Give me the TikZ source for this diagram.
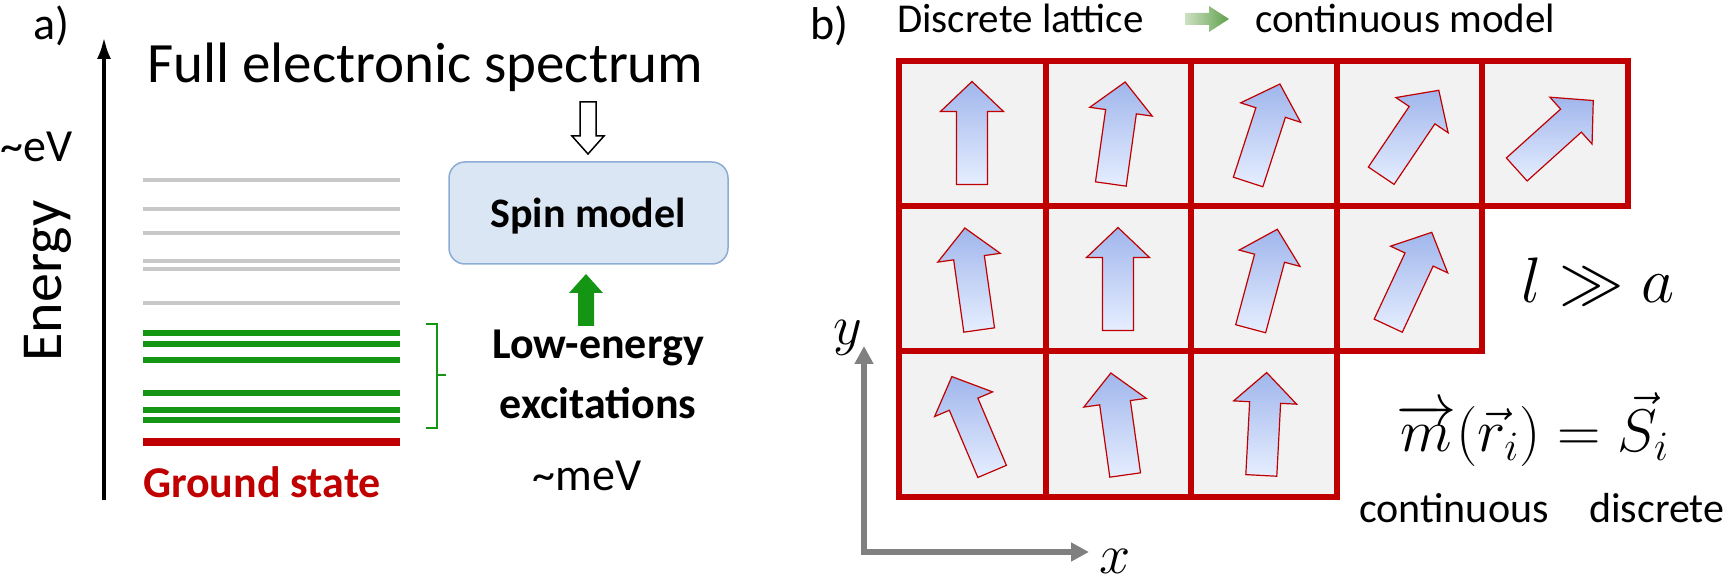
\documentclass[tikz,border=0pt]{standalone}
\usetikzlibrary{arrows.meta}
\usepackage{graphicx}
\usepackage{amsmath}
\usepackage{fontspec}
\setmainfont{Carlito}
\definecolor{dred}{RGB}{192,0,0}
\definecolor{lgreen}{RGB}{20,150,20}
\definecolor{lgray}{RGB}{200,200,200}
\definecolor{boxfill}{RGB}{218,230,244}
\definecolor{boxline}{RGB}{140,172,212}
\definecolor{cellfill}{RGB}{242,242,242}
\definecolor{axgray}{RGB}{128,128,128}
\newcommand{\fs}[1]{\fontsize{#1}{1.2\dimexpr#1pt\relax}\selectfont}
\newcommand{\bigmath}[2]{\fontsize{20}{24}\selectfont\scalebox{#1}{$#2$}}
\newcommand{\spinarr}[3]{%
  \begin{scope}[shift={(#1,#2)},rotate=-#3]
    \draw[draw=dred,line width=1.2pt,top color={rgb,255:red,160;green,182;blue,236},bottom color={rgb,255:red,230;green,238;blue,255}]
      (-15.5,51.5) -- (-15.5,-21.5) -- (-31.5,-21.5) -- (0,-51.5) -- (31.5,-21.5) -- (15.5,-21.5) -- (15.5,51.5) -- cycle;
  \end{scope}}
\tikzset{
  lvl/.style={line width=4.5pt},
  txt/.style={inner sep=0pt,anchor=base},
}
\begin{document}
\begin{tikzpicture}[x=1pt,y=-1pt]
\useasboundingbox (0,0) rectangle (1725,577);
% panel a
\node[txt,anchor=base west] (la) at (33,40) {\fs{46}a)};
\coordinate (ebot) at (104,500);
\coordinate (etop) at (104,37);
\draw[line width=4pt,-{Latex[length=22pt,width=14pt]}] (ebot) -- (etop);
\node[rotate=90,inner sep=0pt] (energy) at (48,281) {\fs{58}Energy};
\node[txt,anchor=base west] (ev) at (0,162) {\fs{46}\textasciitilde eV};
\node[txt,anchor=base west] (full) at (147,83) {\fs{57}Full electronic spectrum};
\foreach \y in {180,209,233,261,269,303} \draw[lvl,lgray] (143,\y) -- (400,\y);
\foreach \y in {333,344,360,393,410,420} \draw[line width=6pt,lgreen] (143,\y) -- (400,\y);
\draw[line width=8pt,dred] (143,442) -- (400,442);
\node[txt,anchor=base west,text=dred] (gs) at (143,497) {\fs{44}\bfseries Ground state};
\draw[lgreen,line width=1.8pt] (426,324) -- (437,324) -- (437,428) -- (426,428);
\draw[lgreen,line width=1.8pt] (437,375) -- (446,375);
\draw[line width=1.5pt,fill=white] (580,102) -- (596,102) -- (596,136) -- (604,136) -- (588,154) -- (572,136) -- (580,136) -- cycle;
\node[draw=boxline,fill=boxfill,line width=1.5pt,rounded corners=16pt,minimum width=279pt,minimum height=102pt] (spin) at (588.5,213) {};
\node[txt] (spint) at (588,228) {\fs{42}\bfseries Spin model};
\fill[lgreen] (578,326) -- (578,293) -- (569,293) -- (586,274) -- (603,293) -- (594,293) -- (594,326) -- cycle;
\node[txt] (low) at (598,359) {\fs{44}\bfseries Low-energy};
\node[txt] (exc) at (598,418) {\fs{44}\bfseries excitations};
\node[txt] (mev) at (587,490) {\fs{46}\textasciitilde meV};
% panel b
\node[txt,anchor=base west] (lb) at (810,40) {\fs{46}b)};
\node[txt,anchor=base west] (disc) at (897,33) {\fs{41}Discrete lattice};
\shade[left color={rgb,255:red,205;green,225;blue,195},right color={rgb,255:red,95;green,160;blue,75}]
  (1185,13) -- (1209,13) -- (1209,6) -- (1229,19) -- (1209,32) -- (1209,25) -- (1185,25) -- cycle;
\node[txt,anchor=base west] (cont) at (1255,33) {\fs{41}continuous model};
% grid
\foreach \c/\r in {0/0,1/0,2/0,3/0,4/0,0/1,1/1,2/1,3/1,0/2,1/2,2/2}{
  \fill[cellfill] (899+\c*145.8,61+\r*145.3) rectangle ++(145.8,145.3);}
\begin{scope}[dred,line width=6pt,line cap=rect]
\draw (899,61) -- (1628,61) -- (1628,206) -- (1482,206) -- (1482,351) -- (1337,351) -- (1337,497) -- (899,497) -- cycle;
\draw (899,206) -- (1482,206);
\draw (899,351) -- (1337,351);
\foreach \x in {1046,1191,1337} \draw (\x,61) -- (\x,497);
\draw (1482,61) -- (1482,206);
\end{scope}
\spinarr{972}{133}{0}
\spinarr{1118}{133}{8}
\spinarr{1264}{133}{18}
\spinarr{1410}{133}{34}
\spinarr{1555}{135}{48}
\spinarr{972}{279}{-8}
\spinarr{1118}{279}{0}
\spinarr{1264}{279}{15}
\spinarr{1410}{279}{25}
\spinarr{972}{424}{-23}
\spinarr{1118}{424}{-8}
\spinarr{1264}{424}{3}
\node[txt] (lga) at (1598,303) {\bigmath{3.1}{l \gg a}};
\node[txt] (eq) at (1533,451) {\bigmath{2.9}{\overrightarrow{m}(\vec r_i) = \vec S_i}};
\node[txt] (cn) at (1454,522) {\fs{42}continuous};
\node[txt,anchor=base west] (dc) at (1589,522) {\fs{42}discrete};
% axes
\coordinate (orig) at (864,552);
\coordinate (yend) at (864,346);
\coordinate (xend) at (1089,552);
\draw[axgray,line width=6pt,-{Triangle[length=18pt,width=18pt]}] (864,555) -- (yend);
\draw[axgray,line width=6pt,-{Triangle[length=18pt,width=18pt]}] (861,552) -- (xend);
\node[inner sep=0pt] (ylab) at (848,338) {\bigmath{2.7}{y}};
\node[inner sep=0pt] (xlab) at (1115,561) {\bigmath{2.7}{x}};
\end{tikzpicture}
\end{document}
